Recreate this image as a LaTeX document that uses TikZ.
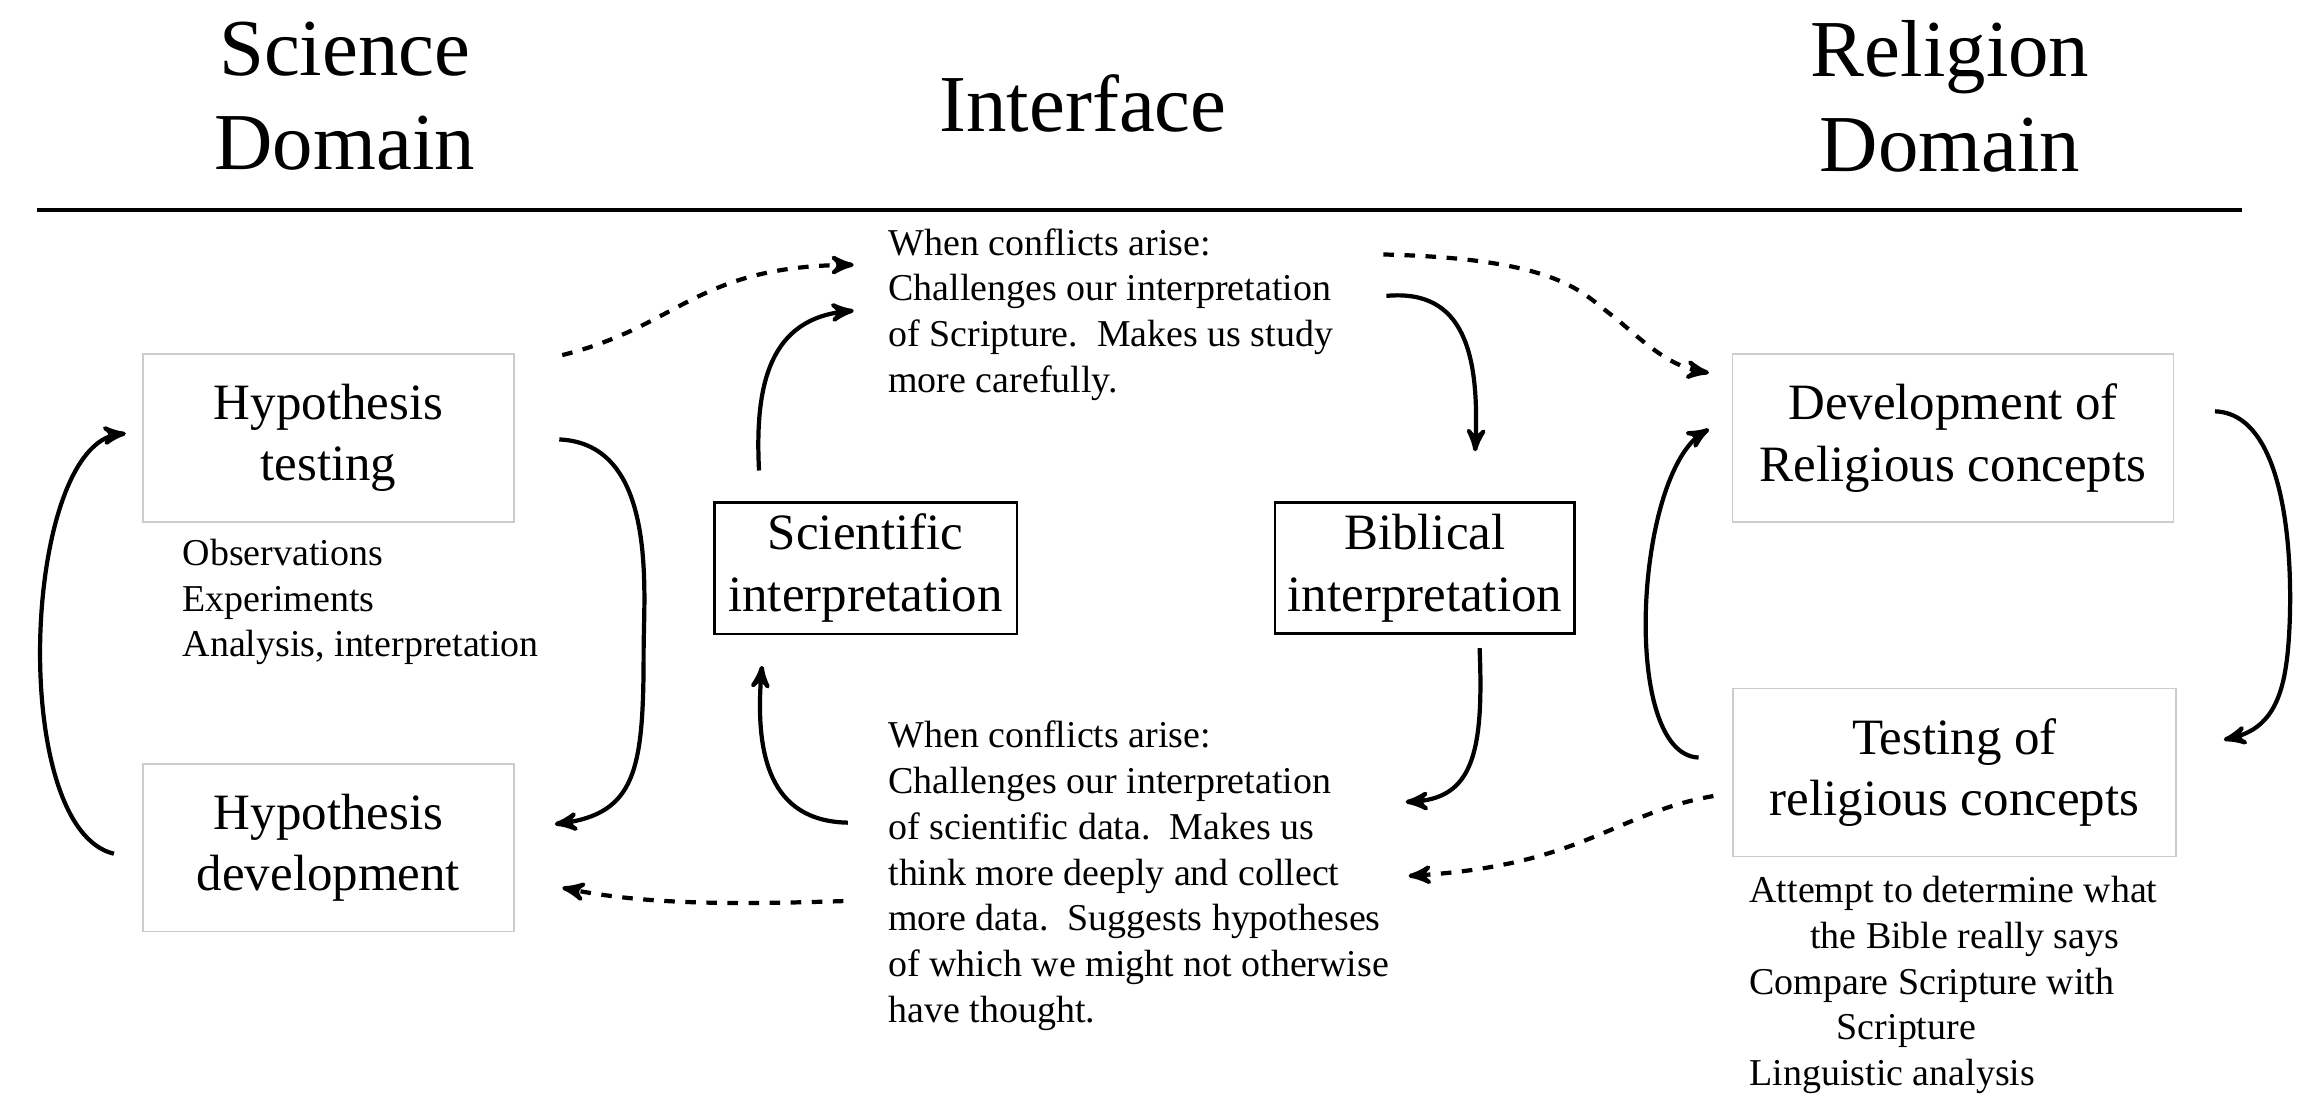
\documentclass[tikz,border=0pt]{standalone}
\usepackage{fontspec}
\setmainfont{Liberation Serif}
\usetikzlibrary{shapes, arrows, positioning}
\tikzstyle{heading} = [font=\fontsize{23}{27}\selectfont, align=center]
\tikzstyle{block} = [rectangle, draw=black!20, font=\fontsize{14.5}{17.5}\selectfont,
    align=center, minimum width=3.71cm, minimum height=1.68cm]
\tikzstyle{interp} = [rectangle, draw, thick, font=\fontsize{14.5}{17.5}\selectfont,
    align=center, minimum height=1.29cm]
\tikzstyle{info} = [font=\fontsize{10.8}{13}\selectfont, align=left, inner sep=0pt]
\tikzstyle{line} = [draw, very thick, -stealth']
\tikzstyle{dline} = [draw, very thick, dashed, -stealth']

\begin{document}
\begin{tikzpicture}[x=0.0148cm, y=-0.0148cm]
        \useasboundingbox (0,0) rectangle (1568,755);
        % Headings
        \node [heading] (science) at (233,65) {Science\\Domain};
        \node [heading] (interface) at (732,70) {Interface};
        \node [heading] (religion) at (1318,65) {Religion\\Domain};
        \draw [very thick] (25,142) -- (1515,142);
        % Place nodes
        \node [block] (testing) at (222,296) {Hypothesis\\testing};
        \node [block] (develop) at (222,573) {Hypothesis\\development};
        \node [interp, minimum width=3.03cm] (sci) at (585,384) {Scientific\\interpretation};
        \node [interp, minimum width=3.0cm] (bib) at (963,384) {Biblical\\interpretation};
        \node [block, minimum width=4.41cm] (relcon) at (1320,296) {Development of\\Religious concepts};
        \node [block, minimum width=4.43cm] (reltest) at (1321,522) {Testing of\\religious concepts};
        % Info nodes
        \node [info, anchor=north west] (obs) at (123,364) {Observations\\Experiments\\Analysis, interpretation};
        \node [info, anchor=north west] (top) at (600,154) {When conflicts arise:\\Challenges our interpretation\\of Scripture.\ \ Makes us study\\more carefully.};
        \node [info, anchor=north west] (bottom) at (600,487) {When conflicts arise:\\Challenges our interpretation\\of scientific data.\ \ Makes us\\think more deeply and collect\\more data.\ \ Suggests hypotheses\\of which we might not otherwise\\have thought.};
        \node [info, anchor=north west] (methods) at (1182,592) {Attempt to determine what\\\hspace{1.6em}the Bible really says\\Compare Scripture with\\\hspace{2.3em}Scripture\\Linguistic analysis};
        % Draw edges
        \path [line] (77,577) .. controls (5,560) and (15,300) .. (85,293);
        \path [line] (378,297) .. controls (445,300) and (435,400) .. (435,440) .. controls (435,520) and (430,550) .. (375,557);
        \path [line] (513,318) .. controls (510,260) and (520,215) .. (577,210);
        \path [line] (573,556) .. controls (520,555) and (510,510) .. (515,450);
        \path [line] (937,200) .. controls (990,195) and (1000,240) .. (997,305);
        \path [line] (1000,438) .. controls (1003,510) and (995,540) .. (950,542);
        \path [line] (1148,512) .. controls (1095,510) and (1105,320) .. (1155,290);
        \path [line] (1497,278) .. controls (1555,280) and (1550,420) .. (1545,450) .. controls (1540,485) and (1525,495) .. (1503,500);
        \path [dline] (380,240) .. controls (460,220) and (470,180) .. (577,179);
        \path [dline] (935,172) .. controls (1060,175) and (1070,200) .. (1092,215) .. controls (1115,235) and (1130,248) .. (1155,252);
        \path [dline] (1158,538) .. controls (1090,550) and (1070,585) .. (952,592);
        \path [dline] (570,609) .. controls (480,612) and (430,610) .. (380,600);
\end{tikzpicture}
\end{document}
